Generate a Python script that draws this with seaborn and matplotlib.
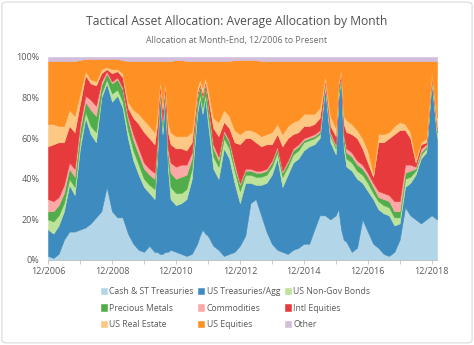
import matplotlib
matplotlib.use("Agg")
import matplotlib.pyplot as plt
import matplotlib.dates as mdates
from matplotlib.patches import FancyBboxPatch
import numpy as np
import pandas as pd
import seaborn as sns

# Month-end snapshots (YYYY-MM)
months = [
    "2006-12", "2007-02", "2007-04", "2007-06", "2007-08", "2007-10", "2007-12",
    "2008-02", "2008-04", "2008-06", "2008-08", "2008-10", "2008-12",
    "2009-02", "2009-04", "2009-06", "2009-08", "2009-10", "2009-12",
    "2010-02", "2010-04", "2010-05", "2010-06", "2010-07", "2010-08", "2010-09",
    "2010-10", "2010-12", "2011-02", "2011-04", "2011-06", "2011-08", "2011-09",
    "2011-10", "2011-11", "2011-12", "2012-02", "2012-04", "2012-06", "2012-08",
    "2012-10", "2012-12", "2013-02", "2013-04", "2013-06", "2013-08", "2013-10",
    "2013-12", "2014-02", "2014-04", "2014-06", "2014-08", "2014-10", "2014-12",
    "2015-02", "2015-04", "2015-06", "2015-08", "2015-10", "2015-12", "2016-01",
    "2016-02", "2016-03", "2016-04", "2016-06", "2016-08", "2016-10", "2016-12",
    "2017-02", "2017-04", "2017-06", "2017-08", "2017-10", "2017-12", "2018-02",
    "2018-04", "2018-06", "2018-08", "2018-10", "2018-12", "2019-02",
]

# Average allocation (%) per asset class
cash_st = [2, 1, 3, 10, 14, 14, 15, 16, 18, 21, 24, 36, 24, 21, 21, 13, 8, 5, 4, 7,
           4, 4, 3, 3, 4, 4, 5, 4, 3, 2, 3, 8, 12, 15, 13, 12, 7, 5, 2, 3,
           4, 7, 12, 28, 30, 22, 14, 8, 5, 4, 3, 5, 6, 8, 8, 15, 22, 22, 20, 22,
           25, 15, 10, 9, 4, 6, 20, 14, 8, 6, 3, 2, 4, 10, 26, 22, 20, 18, 20, 22,
           20]
us_treas = [13, 12, 14, 14, 23, 18, 40, 54, 44, 37, 56, 51, 54, 60, 54, 47, 41, 37, 32, 26,
            26, 46, 79, 59, 76, 41, 25, 23, 25, 28, 37, 64, 68, 57, 67, 56, 38, 35, 53, 47,
            34, 21, 26, 10, 7, 15, 24, 34, 45, 32, 39, 43, 44, 46, 48, 42, 38, 63, 38, 30,
            55, 75, 45, 37, 40, 34, 18, 20, 22, 19, 20, 20, 13, 8, 10, 16, 22, 32, 33, 66,
            40]
non_gov = [5, 6, 5, 4, 3, 4, 4, 3, 4, 5, 2, 2, 4, 3, 3, 4, 5, 5, 4, 4,
           5, 3, 1, 3, 2, 4, 6, 6, 5, 5, 5, 3, 2, 3, 2, 4, 6, 6, 5, 5,
           6, 6, 4, 4, 4, 4, 4, 4, 3, 5, 4, 4, 4, 4, 3, 3, 2, 2, 3, 3,
           2, 1, 3, 4, 4, 4, 4, 4, 3, 4, 4, 4, 4, 3, 4, 3, 2, 2, 2, 2,
           3]
metals = [4, 5, 5, 5, 5, 5, 5, 5, 8, 8, 4, 3, 5, 5, 6, 5, 5, 5, 5, 5,
          5, 4, 2, 3, 2, 4, 7, 7, 8, 7, 5, 5, 4, 5, 5, 5, 4, 3, 3, 3,
          2, 3, 2, 2, 2, 2, 2, 2, 2, 2, 2, 2, 2, 1, 1, 1, 1, 1, 1, 1,
          2, 1, 3, 3, 3, 3, 3, 3, 3, 2, 3, 3, 3, 3, 3, 3, 1, 1, 1, 1,
          1]
commod = [6, 5, 4, 4, 3, 4, 3, 3, 5, 5, 2, 1, 1, 1, 1, 2, 3, 3, 3, 3,
          3, 2, 1, 1, 1, 2, 5, 6, 6, 5, 3, 1, 0.5, 1, 0.5, 1, 2, 2, 1, 1,
          2, 1, 1, 1, 1, 1, 1, 1, 1, 1, 1, 1, 1, 1, 1, 1, 1, 0.5, 1, 1,
          0.5, 0.5, 1, 2, 2, 2, 2, 2, 2, 3, 3, 3, 5, 5, 4, 3, 1, 2, 1, 0.5,
          0.5]
intl_eq = [26, 28, 27, 21, 18, 18, 10, 10, 8, 10, 4, 1, 4, 3, 5, 4, 8, 12, 15, 15,
           14, 8, 1, 5, 1, 8, 9, 9, 8, 7, 5, 1, 0.5, 1, 0.5, 3, 8, 10, 4, 6,
           10, 19, 15, 15, 14, 12, 12, 8, 6, 12, 11, 7, 6, 6, 5, 5, 6, 0.5, 3, 4,
           1.5, 0.5, 5, 8, 9, 11, 8, 5, 3, 24, 25, 28, 33, 35, 17, 13, 2, 2, 1, 0.5,
           0.5]
real_est = [11, 10, 8, 8, 8, 8, 5, 2, 2, 2, 2, 1, 2, 1, 2, 3, 4, 5, 6, 6,
            6, 5, 2, 3, 2, 5, 6, 6, 6, 7, 5, 3, 2, 3, 2, 4, 5, 7, 6, 6,
            6, 5, 4, 4, 5, 5, 5, 6, 5, 6, 6, 6, 6, 6, 6, 5, 5, 2, 5, 4,
            2, 1, 4, 6, 5, 4, 5, 6, 2, 4, 4, 3, 4, 4, 3, 3, 2, 1, 2, 1,
            5]
us_eq = [31, 31, 32, 32, 24, 27, 16.5, 6, 10, 11, 5, 4, 5, 5, 6.5, 20, 24, 26, 29, 32,
         35, 26, 9, 21, 10, 30, 35, 37.5, 37.5, 37, 35, 13, 9, 13, 8, 13, 28, 30, 24, 27,
         34.5, 36.5, 34.5, 34.5, 35.5, 37, 36, 35, 31, 36, 32, 30, 29, 26, 26, 26, 23, 7, 27, 33,
         10, 4, 27, 29, 31, 34, 38, 44, 55, 36, 36, 35, 32, 30, 31, 35, 48, 40, 38, 5,
         28]
other = [2, 2, 2, 2, 2, 2, 1.5, 1, 1, 1, 1, 1, 1, 1, 1.5, 2, 2, 2, 2, 2,
         2, 2, 2, 2, 2, 2, 2, 1.5, 1.5, 2, 2, 2, 2, 2, 2, 2, 2, 2, 2, 2,
         1.5, 1.5, 1.5, 1.5, 1.5, 2, 2, 2, 2, 2, 2, 2, 2, 2, 2, 2, 2, 2, 2, 2,
         2, 2, 2, 2, 2, 2, 2, 2, 2, 2, 2, 2, 2, 2, 2, 2, 2, 2, 2, 2,
         2]

series_names = ["Cash & ST Treasuries", "US Treasuries/Agg", "US Non-Gov Bonds",
                "Precious Metals", "Commodities", "Intl Equities",
                "US Real Estate", "US Equities", "Other"]
x_tick_labels = ["12/2006", "12/2008", "12/2010", "12/2012", "12/2014", "12/2016", "12/2018"]
y_tick_labels = ["0%", "20%", "40%", "60%", "80%", "100%"]

df = pd.DataFrame(
    dict(zip(series_names, [cash_st, us_treas, non_gov, metals, commod,
                            intl_eq, real_est, us_eq, other])),
    index=pd.to_datetime(months),
)

sns.set_theme(style="white")
plt.rcParams["font.family"] = ["Open Sans", "DejaVu Sans"]

# Paired palette, softened towards white
base = sns.color_palette("Paired", 9)
colors = [tuple(0.86 * c + 0.14 for c in rgb) for rgb in base]

text_dark = "#595959"
text_gray = "#6b6b6b"

fig = plt.figure(figsize=(4.74, 3.45), dpi=100)
ax = fig.add_axes([0.1013, 0.2464, 0.8207, 0.5884])

polys = ax.stackplot(df.index, *[df[n].values / 100 for n in series_names],
                     colors=colors, labels=series_names)
for p, c in zip(polys, colors):
    p.set_edgecolor(c)
    p.set_linewidth(0.4)

ax.set_ylim(0, 1)
ax.set_xlim(pd.Timestamp("2006-12-01"), df.index[-1])
ax.set_yticks(np.linspace(0, 1, len(y_tick_labels)))
ax.set_yticklabels(y_tick_labels)
ax.set_xticks(pd.to_datetime([f"{t.split('/')[1]}-12-01" for t in x_tick_labels]))
ax.set_xticklabels(x_tick_labels)
ax.xaxis.set_minor_locator(mdates.MonthLocator(bymonth=12, bymonthday=1))
ax.tick_params(axis="x", which="both", direction="out", length=3, width=0.6,
               color="#bfbfbf", labelsize=6.5, labelcolor=text_dark, pad=2, bottom=True)
ax.tick_params(axis="y", length=0, labelsize=6.5, labelcolor=text_dark, pad=6)
for s in ["top", "right", "left"]:
    ax.spines[s].set_visible(False)
ax.spines["bottom"].set_color("#bfbfbf")
ax.spines["bottom"].set_linewidth(0.6)
ax.grid(False)

fig.text(0.5, 0.939, "Tactical Asset Allocation: Average Allocation by Month",
         ha="center", va="center", fontsize=8.7, color="#505050")
fig.text(0.5, 0.884, "Allocation at Month-End, 12/2006 to Present",
         ha="center", va="center", fontsize=6.3, color=text_gray)

handles, labels = ax.get_legend_handles_labels()
order = [0, 3, 6, 1, 4, 7, 2, 5, 8]
fig.legend([handles[i] for i in order], [labels[i] for i in order],
           loc="upper center", bbox_to_anchor=(0.497, 0.19), ncol=3, frameon=False,
           fontsize=6.2, handlelength=0.7, handleheight=0.7, handletextpad=0.3,
           columnspacing=0.5, labelspacing=0.85, labelcolor=text_dark)

fig.patches.append(FancyBboxPatch((0.004, 0.006), 0.992, 0.988,
                                  boxstyle="round,pad=0,rounding_size=0.01",
                                  transform=fig.transFigure, fill=False,
                                  edgecolor="#d9d9d9", linewidth=0.8))

fig.savefig("out.png", dpi=100)
